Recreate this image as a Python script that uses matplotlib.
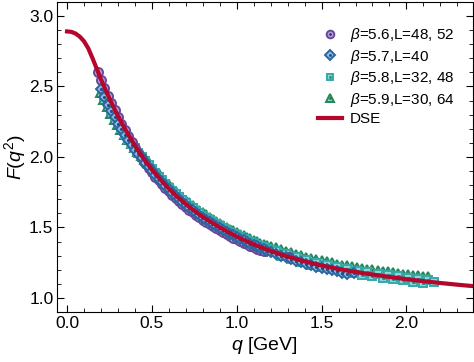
import numpy as np
import matplotlib.pyplot as plt
from matplotlib.ticker import MultipleLocator

plt.rcParams['font.family'] = ['Liberation Sans', 'DejaVu Sans']
plt.rcParams['mathtext.fontset'] = 'custom'
plt.rcParams['mathtext.rm'] = 'Liberation Sans'
plt.rcParams['mathtext.it'] = 'Liberation Sans:italic'

# DSE curve
q_dse = [0.0, 0.025, 0.05, 0.075, 0.1, 0.125, 0.15, 0.175, 0.2, 0.225, 0.25, 0.275, 0.3,
         0.35, 0.4, 0.45, 0.5, 0.55, 0.6, 0.65, 0.7, 0.75, 0.8, 0.9, 1.0, 1.1, 1.2, 1.3,
         1.4, 1.5, 1.6, 1.7, 1.8, 1.9, 2.0, 2.1, 2.2, 2.3, 2.4]
F_dse = [2.890, 2.887, 2.875, 2.853, 2.82, 2.77, 2.70, 2.625, 2.55, 2.48, 2.415, 2.35, 2.29,
         2.18, 2.08, 1.99, 1.91, 1.84, 1.775, 1.717, 1.665, 1.618, 1.575, 1.50, 1.435, 1.38, 1.333, 1.293,
         1.259, 1.23, 1.205, 1.184, 1.166, 1.149, 1.133, 1.119, 1.106, 1.094, 1.083]

# lattice beta=5.6, L=48,52
q_56 = [0.18, 0.20, 0.22, 0.24, 0.26, 0.28, 0.30, 0.32, 0.34, 0.36, 0.38, 0.40, 0.42, 0.44,
        0.46, 0.48, 0.50, 0.52, 0.54, 0.56, 0.58, 0.60, 0.62, 0.64, 0.66, 0.68, 0.70, 0.72,
        0.74, 0.76, 0.78, 0.80, 0.82, 0.84, 0.86, 0.88, 0.90, 0.92, 0.94, 0.96, 0.98, 1.00,
        1.02, 1.04, 1.06, 1.08, 1.10, 1.12, 1.14, 1.16, 1.31]
F_56 = [2.60, 2.545, 2.49, 2.435, 2.38, 2.33, 2.28, 2.235, 2.19, 2.145, 2.105, 2.065, 2.025, 1.99,
        1.955, 1.92, 1.89, 1.86, 1.833, 1.806, 1.78, 1.755, 1.732, 1.708, 1.686, 1.665, 1.645, 1.626,
        1.607, 1.589, 1.572, 1.555, 1.54, 1.524, 1.509, 1.494, 1.48, 1.467, 1.454, 1.44, 1.428, 1.415,
        1.404, 1.393, 1.382, 1.371, 1.36, 1.35, 1.341, 1.331, 1.29]

# lattice beta=5.7, L=40
q_57 = [0.20, 0.22, 0.24, 0.26, 0.28, 0.30, 0.32, 0.34, 0.36, 0.38, 0.40, 0.42, 0.44, 0.46,
        0.48, 0.50, 0.52, 0.54, 0.56, 0.58, 0.60, 0.62, 0.64, 0.66, 0.68, 0.70, 0.72, 0.74,
        0.76, 0.78, 0.80, 0.82, 0.84, 0.86, 0.88, 0.90, 0.92, 0.94, 0.96, 0.98, 1.00, 1.02,
        1.04, 1.06, 1.08, 1.10, 1.12, 1.14, 1.16, 1.18, 1.20, 1.23, 1.26, 1.29, 1.32, 1.35,
        1.38, 1.41, 1.44, 1.47, 1.50, 1.53, 1.56, 1.59, 1.62, 1.65, 1.69]
F_57 = [2.48, 2.425, 2.37, 2.325, 2.28, 2.235, 2.195, 2.155, 2.12, 2.085, 2.05, 2.02, 1.99, 1.96,
        1.93, 1.90, 1.872, 1.846, 1.82, 1.795, 1.77, 1.747, 1.723, 1.701, 1.68, 1.66, 1.641, 1.622,
        1.604, 1.587, 1.57, 1.555, 1.539, 1.524, 1.509, 1.495, 1.482, 1.469, 1.455, 1.443, 1.43, 1.419,
        1.408, 1.397, 1.386, 1.375, 1.365, 1.355, 1.345, 1.336, 1.327, 1.313, 1.30, 1.287, 1.275, 1.264,
        1.253, 1.242, 1.232, 1.222, 1.213, 1.204, 1.196, 1.188, 1.18, 1.173, 1.18]

# lattice beta=5.8, L=32,48
q_58 = [0.22, 0.24, 0.26, 0.28, 0.30, 0.32, 0.34, 0.36, 0.38, 0.40, 0.42, 0.44, 0.46, 0.48,
        0.50, 0.52, 0.54, 0.56, 0.58, 0.60, 0.62, 0.64, 0.66, 0.68, 0.70, 0.72, 0.74, 0.76,
        0.78, 0.80, 0.82, 0.84, 0.86, 0.88, 0.90, 0.92, 0.94, 0.96, 0.98, 1.00, 1.02, 1.04,
        1.06, 1.08, 1.10, 1.12, 1.14, 1.16, 1.18, 1.20, 1.23, 1.26, 1.29, 1.32, 1.35, 1.38,
        1.41, 1.44, 1.47, 1.50, 1.53, 1.56, 1.59, 1.62, 1.65, 1.68, 1.71, 1.74, 1.77, 1.80,
        1.83, 1.86, 1.89, 1.92, 1.95, 1.98, 2.01, 2.04, 2.07, 2.10, 2.13, 2.16]
F_58 = [2.43, 2.38, 2.335, 2.29, 2.245, 2.205, 2.165, 2.13, 2.095, 2.06, 2.03, 2.0, 1.97, 1.942,
        1.914, 1.887, 1.861, 1.834, 1.808, 1.783, 1.76, 1.736, 1.714, 1.693, 1.673, 1.654, 1.635, 1.617,
        1.60, 1.583, 1.568, 1.552, 1.537, 1.522, 1.508, 1.495, 1.482, 1.468, 1.456, 1.443, 1.432, 1.421,
        1.41, 1.399, 1.388, 1.378, 1.369, 1.359, 1.35, 1.341, 1.333, 1.297, 1.309, 1.274, 1.288, 1.254,
        1.268, 1.235, 1.250, 1.218, 1.234, 1.203, 1.219, 1.188, 1.206, 1.176, 1.194, 1.165, 1.183, 1.154,
        1.173, 1.144, 1.163, 1.134, 1.153, 1.124, 1.144, 1.116, 1.135, 1.107, 1.127, 1.111]

# lattice beta=5.9, L=30,64
q_59 = [0.20, 0.22, 0.24, 0.26, 0.28, 0.30, 0.32, 0.34, 0.36, 0.38, 0.40, 0.42, 0.44, 0.46,
        0.48, 0.50, 0.52, 0.54, 0.56, 0.58, 0.60, 0.62, 0.64, 0.66, 0.68, 0.70, 0.72, 0.74,
        0.76, 0.78, 0.80, 0.82, 0.84, 0.86, 0.88, 0.90, 0.92, 0.94, 0.96, 0.98, 1.00, 1.02,
        1.04, 1.06, 1.08, 1.10, 1.12, 1.14, 1.16, 1.18, 1.20, 1.23, 1.26, 1.29, 1.32, 1.35,
        1.38, 1.41, 1.44, 1.47, 1.50, 1.53, 1.56, 1.59, 1.62, 1.65, 1.68, 1.71, 1.74, 1.77,
        1.80, 1.83, 1.86, 1.89, 1.92, 1.95, 1.98, 2.01, 2.04, 2.07, 2.10, 2.13]
F_59 = [2.46, 2.41, 2.36, 2.315, 2.27, 2.23, 2.195, 2.16, 2.13, 2.10, 2.07, 2.04, 2.014, 1.985,
        1.958, 1.93, 1.902, 1.876, 1.85, 1.824, 1.80, 1.777, 1.753, 1.731, 1.71, 1.69, 1.671, 1.652,
        1.634, 1.617, 1.60, 1.585, 1.569, 1.554, 1.539, 1.525, 1.512, 1.499, 1.485, 1.473, 1.46, 1.449,
        1.438, 1.427, 1.416, 1.405, 1.395, 1.386, 1.376, 1.367, 1.358, 1.351, 1.339, 1.327, 1.316, 1.306,
        1.296, 1.286, 1.277, 1.268, 1.26, 1.252, 1.245, 1.237, 1.23, 1.224, 1.218, 1.212, 1.207, 1.201,
        1.196, 1.191, 1.186, 1.181, 1.176, 1.171, 1.166, 1.162, 1.158, 1.153, 1.149, 1.145]

fig = plt.figure(figsize=(4.74, 3.62), dpi=100)
ax = fig.add_axes([0.12, 0.138, 0.877, 0.857])

ms = 6.5
h4 = ax.plot(q_59, F_59, '^', ms=ms, mfc='#8fd2b0', mec='#23875a', mew=1.4)[0]
d4 = ax.plot(q_59, F_59, '.', ms=2.0, color='#1e6e44')[0]
h3 = ax.plot(q_58, F_58, 's', ms=ms - 0.7, mfc='#8ed6d6', mec='#35a8aa', mew=1.4)[0]
d3 = ax.plot(q_58, F_58, '.', ms=2.5, color='#2a8c8c')[0]
h1 = ax.plot(q_56, F_56, 'o', ms=ms, mfc='#b7a2d8', mec='#67489a', mew=1.4)[0]
d1 = ax.plot(q_56, F_56, '.', ms=2.5, color='#4a2f7c')[0]
h2 = ax.plot(q_57, F_57, 'D', ms=ms - 1.0, mfc='#8fbbe2', mec='#2a66a0', mew=1.4)[0]
d2 = ax.plot(q_57, F_57, '.', ms=2.5, color='#1f4f80')[0]
hd = ax.plot(q_dse, F_dse, '-', color='#b5062c', lw=3.0)[0]

leg = ax.legend([(h1, d1), (h2, d2), (h3, d3), (h4, d4), hd],
                [r'$\beta$=5.6,L=48, 52', r'$\beta$=5.7,L=40', r'$\beta$=5.8,L=32, 48',
                 r'$\beta$=5.9,L=30, 64', 'DSE'],
                loc='upper right', bbox_to_anchor=(0.99, 0.965), frameon=False, fontsize=11,
                handlelength=1.6, handletextpad=0.5, labelspacing=0.22, markerscale=0.85)

ax.set_xlim(-0.06, 2.39)
ax.set_ylim(0.9, 3.1)
ax.xaxis.set_major_locator(MultipleLocator(0.5))
ax.xaxis.set_minor_locator(MultipleLocator(0.1))
ax.yaxis.set_major_locator(MultipleLocator(0.5))
ax.yaxis.set_minor_locator(MultipleLocator(0.1))
ax.tick_params(which='both', direction='in', top=True, right=True, labelsize=12.5, pad=2.5)
ax.tick_params(which='major', length=5)
ax.tick_params(which='minor', length=3)
ax.set_xlabel(r'$q$ [GeV]', fontsize=14, labelpad=3)
ax.set_ylabel(r'$F(q^2)$', fontsize=14, labelpad=1)

fig.savefig('out.png', dpi=100)
